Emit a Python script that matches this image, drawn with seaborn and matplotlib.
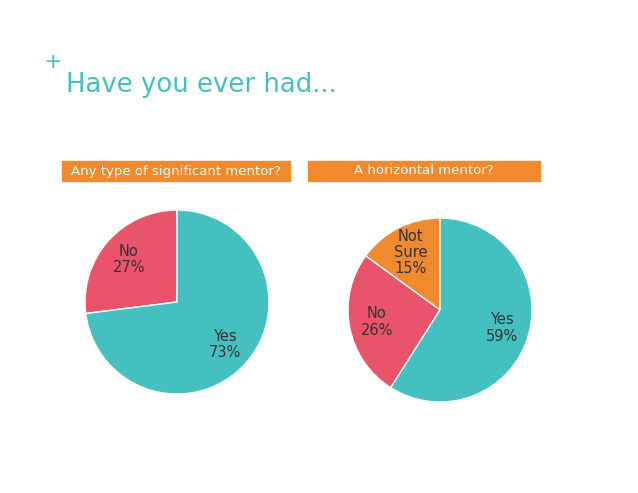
import numpy as np
import seaborn as sns
import matplotlib.pyplot as plt
from matplotlib.patches import Rectangle

sns.set_theme(style="white")
plt.rcParams['font.family'] = ['DejaVu Sans']

left_labels = ["No", "Yes"]
left_values = [27, 73]
right_labels = ["Not\nSure", "No", "Yes"]
right_values = [15, 26, 59]

teal = "#45C0C0"
red = "#E9546B"
orange = "#F08A2C"
W, H = 638, 493

fig = plt.figure(figsize=(W / 100, H / 100), dpi=100)
fig.patch.set_facecolor("white")

fig.text(44 / W, 1 - 62 / H, "+", color=teal, fontsize=16, va="center")
fig.text(66 / W, 1 - 85 / H, "Have you ever had...", color=teal, fontsize=18.7, va="center")

def banner(x0, x1, text):
    fig.patches.append(Rectangle((x0 / W, 1 - 181 / H), (x1 - x0) / W, 20 / H,
                                 transform=fig.transFigure, color=orange, zorder=0))
    fig.text((x0 + x1) / 2 / W, 1 - 171 / H, text, color="white", fontsize=9.5,
             ha="center", va="center")

banner(62, 290, "Any type of significant mentor?")
banner(308, 540, "A horizontal mentor?")

def draw_pie(cx, cy, r, labels, values, colors):
    ax = fig.add_axes([(cx - r) / W, 1 - (cy + r) / H, 2 * r / W, 2 * r / H])
    vals = iter(values)
    labs = iter(labels)
    ax.pie(values, colors=colors, startangle=90, counterclock=True,
           wedgeprops=dict(edgecolor="white", linewidth=1),
           autopct=lambda p: f"{next(labs)}\n{next(vals)}%", pctdistance=0.7,
           textprops=dict(color="#333333", fontsize=10.5, linespacing=1.1))
    ax.set_xlim(-1, 1)
    ax.set_ylim(-1, 1)
    ax.set_aspect("equal")
    ax.axis("off")

draw_pie(177, 302, 92, left_labels, left_values, [red, teal])
draw_pie(440, 310, 92, right_labels, right_values, [orange, red, teal])

fig.savefig("out.png", dpi=100)
